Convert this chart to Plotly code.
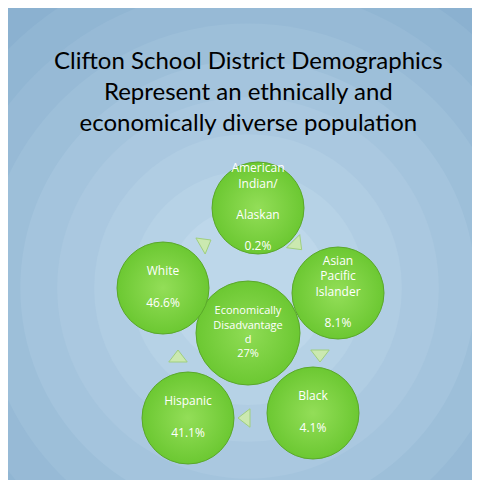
import plotly.graph_objects as go

labels = ["American<br>Indian/<br><br>Alaskan<br><br>0.2%", "Asian<br>Pacific<br>Islander<br><br>8.1%",
          "Black<br><br>4.1%", "Hispanic<br><br>41.1%", "White<br><br>46.6%"]
cx = [250, 330, 305, 180, 155]
cy = [200, 285, 405, 410, 280]
center_label = "Economically<br>Disadvantage<br>d<br>27%"
ax = [288, 312, 238, 170, 196]
ay = [236, 346, 410, 350, 236]
aang = [135, 180, 270, 0, 60]

fig = go.Figure()
shapes = []
n = 14
for i in range(n):
    t = i / (n - 1)
    r = 560 - t * 480
    c0 = (0x6c, 0x9a, 0xc0); c1 = (0xbd, 0xd7, 0xea)
    col = "rgb(%d,%d,%d)" % tuple(int(a + (b - a) * t) for a, b in zip(c0, c1))
    shapes.append(dict(type="circle", xref="x", yref="y", x0=240-r, x1=240+r, y0=280-r, y1=280+r,
                       fillcolor=col, line_width=0, layer="below"))
fig.add_trace(go.Scatter(x=[240], y=[325], mode="markers+text", text=[center_label],
    textfont=dict(color="white", size=11, family="Open Sans"),
    marker=dict(size=104, color="#6cc832", gradient=dict(type="radial", color="#8fdc55"),
                line=dict(color="#5aa82a", width=1)), hoverinfo="skip"))
fig.add_trace(go.Scatter(x=cx, y=cy, mode="markers+text", text=labels,
    textfont=dict(color="white", size=12, family="Open Sans"),
    marker=dict(size=92, color="#6cc832", gradient=dict(type="radial", color="#93de58"),
                line=dict(color="#5aa82a", width=1)), hoverinfo="skip"))
fig.add_trace(go.Scatter(x=ax, y=ay, mode="markers",
    marker=dict(symbol="triangle-up", size=16, angle=aang, color="#cbe9b0",
                line=dict(color="#9fcf7f", width=1)), hoverinfo="skip"))
fig.add_annotation(x=240, y=82, xref="x", yref="y", showarrow=False,
    text="Clifton School District Demographics<br>Represent an ethnically and<br>economically diverse population",
    font=dict(size=24, color="black", family="Lato"))
fig.update_layout(width=480, height=480, margin=dict(l=0, r=0, t=0, b=0), showlegend=False,
    shapes=shapes, plot_bgcolor="#6c9ac0", paper_bgcolor="#6c9ac0",
    xaxis=dict(range=[0, 480], visible=False, fixedrange=True),
    yaxis=dict(range=[480, 0], visible=False, fixedrange=True))
fig.write_html("out.html")
